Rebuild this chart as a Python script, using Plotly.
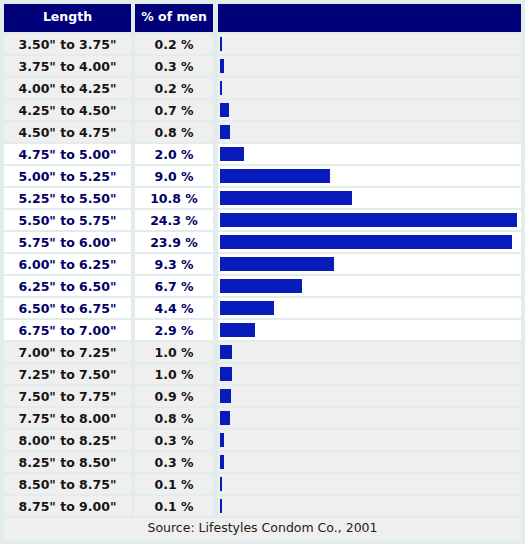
import plotly.graph_objects as go

# data
lengths = ['3.50" to 3.75"', '3.75" to 4.00"', '4.00" to 4.25"', '4.25" to 4.50"',
           '4.50" to 4.75"', '4.75" to 5.00"', '5.00" to 5.25"', '5.25" to 5.50"',
           '5.50" to 5.75"', '5.75" to 6.00"', '6.00" to 6.25"', '6.25" to 6.50"',
           '6.50" to 6.75"', '6.75" to 7.00"', '7.00" to 7.25"', '7.25" to 7.50"',
           '7.50" to 7.75"', '7.75" to 8.00"', '8.00" to 8.25"', '8.25" to 8.50"',
           '8.50" to 8.75"', '8.75" to 9.00"']
pct_men = [0.2, 0.3, 0.2, 0.7, 0.8, 2.0, 9.0, 10.8, 24.3, 23.9, 9.3,
           6.7, 4.4, 2.9, 1.0, 1.0, 0.9, 0.8, 0.3, 0.3, 0.1, 0.1]
headers = ["Length", "% of men", ""]
source = "Source: Lifestyles Condom Co., 2001"

# style
W, H = 525, 544
navy = "#000078"
bar_blue = "#081cbb"
grey_cell = "#efefef"
white_cell = "#ffffff"
bg = "#e2ecec"
font = "DejaVu Sans"
fs = 12.5
band = (4.75, 7.00)  # rows shown on white

lows = [float(s.split('"')[0]) for s in lengths]
in_band = [band[0] <= lo < band[1] for lo in lows]
cell_colors = [white_cell if b else grey_cell for b in in_band]
text_colors = ["#000066" if b else "#141414" for b in in_band]
pct_text = [f"{v:.1f} %" for v in pct_men]
n = len(lengths)

fig = go.Figure()

# body cells for the three columns
for xa in ["x", "x2", "x3"]:
    fig.add_trace(go.Bar(x=[1] * n, y=lengths, orientation="h", base=0,
                         width=20 / 22, marker=dict(color=cell_colors, line_width=0),
                         xaxis=xa, yaxis="y", hoverinfo="skip", showlegend=False))

# body text (own y axis, nudged down a little)
for xa, txt in [("x", lengths), ("x2", pct_text)]:
    fig.add_trace(go.Scatter(x=[0.5] * n, y=lengths, mode="text", text=txt,
                             textfont=dict(family=font, size=fs, color=text_colors, weight="bold"),
                             xaxis=xa, yaxis="y4", hoverinfo="skip", showlegend=False))

# data bars
fig.add_trace(go.Bar(x=pct_men, y=lengths, orientation="h", base=0, width=14 / 22,
                     marker=dict(color=bar_blue, line_width=0),
                     xaxis="x4", yaxis="y", hoverinfo="skip", showlegend=False))

# header
for xa, h in zip(["x", "x2", "x3"], headers):
    fig.add_trace(go.Bar(x=[1], y=[0], orientation="h", base=0, width=1,
                         marker=dict(color=navy, line_width=0),
                         xaxis=xa, yaxis="y2", hoverinfo="skip", showlegend=False))
    fig.add_trace(go.Scatter(x=[0.5], y=[0], mode="text", text=[h],
                             textfont=dict(family=font, size=fs, color="white", weight="bold"),
                             xaxis=xa, yaxis="y2", hoverinfo="skip", showlegend=False))

# source row
fig.add_trace(go.Bar(x=[1], y=[0], orientation="h", base=0, width=1,
                     marker=dict(color=grey_cell, line_width=0),
                     xaxis="x5", yaxis="y3", hoverinfo="skip", showlegend=False))
fig.add_trace(go.Scatter(x=[0.5], y=[0], mode="text", text=[source],
                         textfont=dict(family=font, size=12.5, color="#222222"),
                         xaxis="x5", yaxis="y3", hoverinfo="skip", showlegend=False))

hidden = dict(visible=False, fixedrange=True)
px_per_pct = 297 / 24.3
fig.update_layout(
    width=W, height=H, margin=dict(l=0, r=0, t=0, b=0),
    paper_bgcolor=bg, plot_bgcolor="rgba(0,0,0,0)",
    barmode="overlay", bargap=0,
    xaxis=dict(domain=[4 / W, 131 / W], range=[0, 1], anchor="y", **hidden),
    xaxis2=dict(domain=[135 / W, 213 / W], range=[0, 1], anchor="y", **hidden),
    xaxis3=dict(domain=[218 / W, 521 / W], range=[0, 1], anchor="y", **hidden),
    xaxis4=dict(overlaying="x3", range=[-2 / px_per_pct, 301 / px_per_pct], anchor="y", **hidden),
    xaxis5=dict(domain=[4 / W, 521 / W], range=[0, 1], anchor="y3", **hidden),
    yaxis=dict(domain=[1 - 517 / H, 1 - 33 / H], type="category", categoryarray=lengths,
               range=[n - 0.5, -0.5], **hidden),
    yaxis4=dict(domain=[1 - 519 / H, 1 - 35 / H], type="category", categoryarray=lengths,
                range=[n - 0.5, -0.5], **hidden),
    yaxis2=dict(domain=[1 - 32 / H, 1 - 4 / H], range=[-0.5, 0.5], **hidden),
    yaxis3=dict(domain=[1 - 540 / H, 1 - 518 / H], range=[-0.5, 0.5], **hidden),
)

fig.write_html("out.html", config={"displayModeBar": False},
               post_script="document.body.style.margin='0';document.body.style.overflow='hidden';")
